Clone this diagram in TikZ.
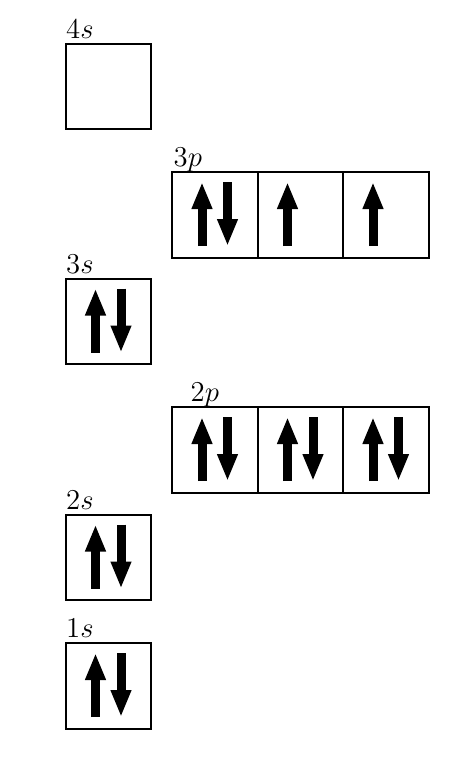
\documentclass[tikz,border=0pt]{standalone}
\usetikzlibrary{positioning,arrows.meta}
\begin{document}
\begin{tikzpicture}[x=1pt,y=1pt]
\tikzstyle{orb} = [rectangle, minimum size=42.75pt, inner sep=0pt, outer sep=0pt, draw=black, line width=0.8pt]
\tikzstyle{lbl} = [inner sep=0pt, anchor=base west, font=\fontsize{14.5}{17}\selectfont]
\tikzstyle{spin} = [line width=4.5pt, -{Triangle[width=9.5pt,length=13.5pt]}]

\useasboundingbox (0,0) rectangle (237,-386.5);

%boxes
\node (s4) [orb] at (54.25,-43.25) {};
\node (p3a) [orb] at (107.5,-107.5) {};
\node (p3b) [orb, right=0pt of p3a] {};
\node (p3c) [orb, right=0pt of p3b] {};
\node (s3) [orb] at (54.25,-160.75) {};
\node (p2a) [orb] at (107.5,-225) {};
\node (p2b) [orb, right=0pt of p2a] {};
\node (p2c) [orb, right=0pt of p2b] {};
\node (s2) [orb] at (54.25,-278.75) {};
\node (s1) [orb] at (54.25,-343) {};

%labels
\node (l4s) [lbl] at ([yshift=2.8pt]s4.north west) {\(4s\)};
\node (l3p) [lbl] at ([xshift=0.5pt,yshift=2.8pt]p3a.north west) {\(3p\)};
\node (l3s) [lbl] at ([yshift=2.8pt]s3.north west) {\(3s\)};
\node (l2p) [lbl] at ([xshift=9pt,yshift=2.8pt]p2a.north west) {\(2p\)};
\node (l2s) [lbl] at ([yshift=2.8pt]s2.north west) {\(2s\)};
\node (l1s) [lbl] at ([yshift=2.8pt]s1.north west) {\(1s\)};

%spins
\foreach \b in {p3a,s3,p2a,p2b,p2c,s2,s1} {
  \draw [spin] ([xshift=-6.5pt,yshift=-15.5pt]\b.center) -- ++(0,32);
  \draw [spin] ([xshift=6.25pt,yshift=16.5pt]\b.center) -- ++(0,-32);
}
\foreach \b in {p3b,p3c}
  \draw [spin] ([xshift=-6.5pt,yshift=-15.5pt]\b.center) -- ++(0,32);
\end{tikzpicture}
\end{document}
